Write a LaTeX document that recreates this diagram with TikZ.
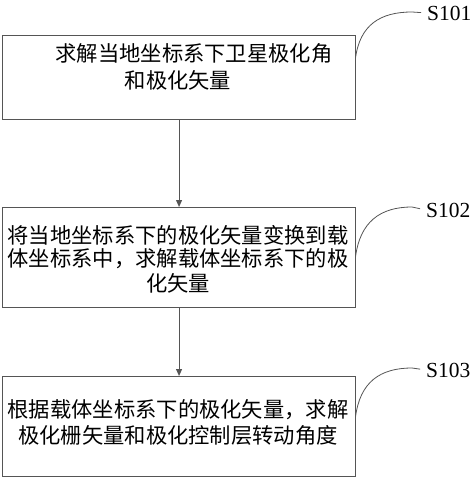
\documentclass[tikz,border=0pt]{standalone}
\usepackage{fontspec}
\setmainfont{Liberation Serif}
\newfontfamily\cjk{Noto Sans CJK SC}
\usetikzlibrary{arrows.meta}
\definecolor{linegray}{RGB}{85,85,85}
\begin{document}
\begin{tikzpicture}[x=1pt,y=-1pt,
  box/.style={draw=linegray,line width=1.1pt,minimum width=353pt,inner sep=0pt,anchor=north west},
  txt/.style={font=\cjk\fontsize{21.3}{24}\selectfont,inner sep=0pt},
  lab/.style={font=\fontsize{21.5}{23}\selectfont,inner sep=0pt,anchor=west},
  flow/.style={draw=linegray,line width=1pt,-{Triangle[length=7pt,width=6pt]}},
  lead/.style={draw=linegray,line width=0.8pt,shorten >=6pt}]
\useasboundingbox (0,0) rectangle (474,478);
\node[box,minimum height=84pt] (b1) at (2,35) {};
\node[box,minimum height=100pt] (b2) at (2,207) {};
\node[box,minimum height=100pt] (b3) at (2,376) {};
\node[txt] (t1a) at (194,53) {求解当地坐标系下卫星极化角};
\node[txt] (t1b) at (178,80) {和极化矢量};
\node[txt] (t2a) at (178,235) {将当地坐标系下的极化矢量变换到载};
\node[txt] (t2b) at (178,259) {体坐标系中，求解载体坐标系下的极};
\node[txt] (t2c) at (178,283) {化矢量};
\node[txt] (t3a) at (178,410) {根据载体坐标系下的极化矢量，求解};
\node[txt] (t3b) at (178,435) {极化栅矢量和极化控制层转动角度};
\draw[flow] (b1.south) -- (b2.north);
\draw[flow] (b2.south) -- (b3.north);
\node[lab] (l1) at (427,13) {S101};
\node[lab] (l2) at (426,210) {S102};
\node[lab] (l3) at (426,370) {S103};
\coordinate (c1) at (355.5,58);
\coordinate (c2) at (355.5,257);
\coordinate (c3) at (355.5,417);
\draw[lead] (c1) .. controls (360,25) and (380,12) .. (412,12) -- (l1.west);
\draw[lead] (c2) .. controls (360,222) and (380,207) .. (412,207) -- (l2.west);
\draw[lead] (c3) .. controls (360,382) and (380,368) .. (412,368) -- (l3.west);
\end{tikzpicture}
\end{document}
